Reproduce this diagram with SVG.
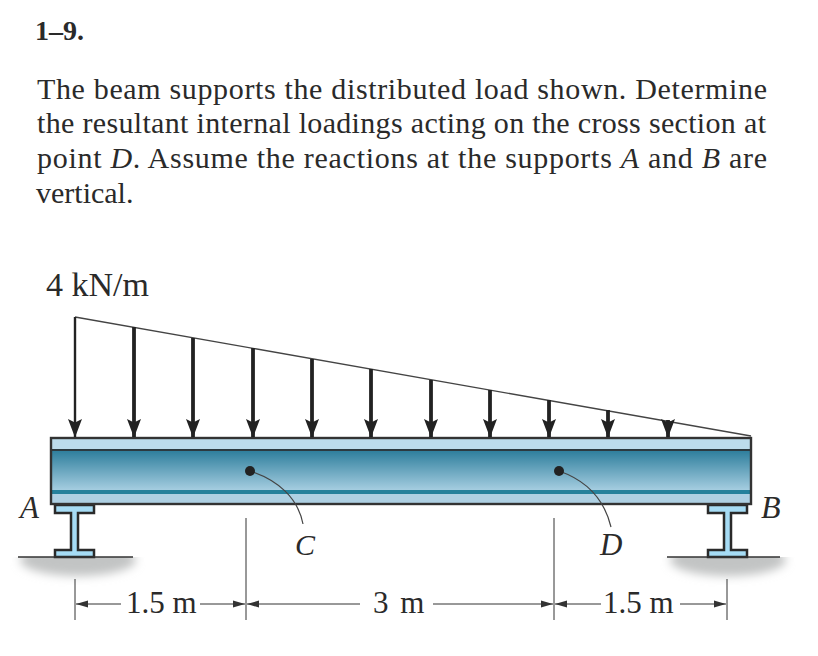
<svg xmlns="http://www.w3.org/2000/svg" width="818" height="656" viewBox="0 0 818 656">
<style>
text{font-family:"Liberation Serif","Times New Roman",serif;fill:#2a2a2a}
.p{font-size:30px}
.d{font-size:31px}
.l{font-style:italic}
.load{stroke:#222;stroke-width:3.8;fill:none}
.dim{stroke:#333;stroke-width:1;fill:none}
.sup{fill:#a6dcf5;stroke:#2a2a2a;stroke-width:2.5}
.ground{stroke:#333;stroke-width:1.6}
</style>
<defs>
<linearGradient id="web" x1="0" y1="0" x2="0" y2="1"><stop offset="0" stop-color="#2f7f9d"/><stop offset="1" stop-color="#a5cde0"/></linearGradient>
<filter id="blur" x="-20%" y="-60%" width="140%" height="220%"><feGaussianBlur stdDeviation="5"/></filter>
<clipPath id="below-a"><rect x="0" y="557" width="200" height="50"/></clipPath>
<clipPath id="below-b"><rect x="640" y="557" width="178" height="50"/></clipPath>
<marker id="load-head" markerUnits="userSpaceOnUse" markerWidth="19" markerHeight="15" refX="18" refY="7.5" orient="auto" viewBox="0 0 19 15"><path d="M0 0.5L3.5 7.5L0 14.5L18.5 7.5Z" fill="#222"/></marker>
<marker id="dim-head" markerUnits="userSpaceOnUse" markerWidth="13" markerHeight="8" refX="12" refY="4" orient="auto" viewBox="0 0 13 8"><path d="M0 0.5L12 4L0 7.5Z" fill="#333"/></marker>
</defs>

<g id="problem-text">
<text x="35" y="40" font-size="28" font-weight="bold">1–9.</text>
<text class="p" x="37" y="99" textLength="730" lengthAdjust="spacing">The beam supports the distributed load shown. Determine</text>
<text class="p" x="37" y="133" textLength="729" lengthAdjust="spacing">the resultant internal loadings acting on the cross section at</text>
<text class="p" x="37" y="168" textLength="730" lengthAdjust="spacing">point <tspan font-style="italic">D</tspan>. Assume the reactions at the supports <tspan font-style="italic">A</tspan> and <tspan font-style="italic">B</tspan> are</text>
<text class="p" x="36" y="203">vertical.</text>
</g>

<g id="support-a">
<g clip-path="url(#below-a)"><ellipse cx="78" cy="560" rx="58" ry="16" fill="#c2c4c4" filter="url(#blur)"/></g>
<path class="sup" d="M55 505H94V513H78V550H94V557H55V550H71V513H55Z"/>
<line class="ground" x1="18" y1="557" x2="133" y2="557"/>
</g>
<g id="support-b">
<g clip-path="url(#below-b)"><ellipse cx="728" cy="560" rx="58" ry="16" fill="#c2c4c4" filter="url(#blur)"/></g>
<path class="sup" d="M708 505H747V513H731V550H747V557H708V550H724V513H708Z"/>
<line class="ground" x1="667" y1="557" x2="780" y2="557"/>
</g>

<g id="beam">
<rect x="51" y="438" width="700" height="66" fill="#aed0e3"/>
<rect x="51" y="439" width="700" height="11" fill="#bcdcec"/>
<rect x="51" y="451" width="700" height="39" fill="url(#web)"/>
<rect x="51" y="490" width="700" height="4" fill="#25819c"/>
<line x1="51" y1="450" x2="751" y2="450" stroke="#2c3a40" stroke-width="2.2"/>
<rect x="51" y="438" width="700" height="66" fill="none" stroke="#333" stroke-width="2.4"/>
</g>

<g id="connectors">
<g id="load">
<path d="M75 317L751 436" stroke="#444" stroke-width="1.3" fill="none"/>
<line class="load" x1="75" y1="317" x2="75" y2="437" marker-end="url(#load-head)" style="stroke-width:2.4"/>
<line class="load" x1="134" y1="327" x2="134" y2="437" marker-end="url(#load-head)"/>
<line class="load" x1="193" y1="338" x2="193" y2="437" marker-end="url(#load-head)"/>
<line class="load" x1="253" y1="348" x2="253" y2="437" marker-end="url(#load-head)"/>
<line class="load" x1="312" y1="359" x2="312" y2="437" marker-end="url(#load-head)"/>
<line class="load" x1="371" y1="369" x2="371" y2="437" marker-end="url(#load-head)"/>
<line class="load" x1="431" y1="380" x2="431" y2="437" marker-end="url(#load-head)"/>
<line class="load" x1="490" y1="390" x2="490" y2="437" marker-end="url(#load-head)"/>
<line class="load" x1="549" y1="400" x2="549" y2="437" marker-end="url(#load-head)"/>
<line class="load" x1="608" y1="410" x2="608" y2="437" marker-end="url(#load-head)"/>
<line class="load" x1="668" y1="420" x2="668" y2="437" marker-end="url(#load-head)"/>
</g>
<g id="leaders">
<path d="M250 471C278 480 298 498 303 524" stroke="#444" stroke-width="1.2" fill="none"/>
<path d="M559 471C585 480 604 498 611 527" stroke="#444" stroke-width="1.2" fill="none"/>
</g>
<g id="dimensions">
<line class="dim" x1="75" y1="579" x2="75" y2="620"/>
<line class="dim" x1="246" y1="518" x2="246" y2="620"/>
<line class="dim" x1="554" y1="518" x2="554" y2="620"/>
<line class="dim" x1="727" y1="579" x2="727" y2="620"/>
<line class="dim" x1="121" y1="604" x2="76" y2="604" marker-end="url(#dim-head)"/>
<line class="dim" x1="200" y1="604" x2="245" y2="604" marker-end="url(#dim-head)"/>
<line class="dim" x1="360" y1="604" x2="247" y2="604" marker-end="url(#dim-head)"/>
<line class="dim" x1="433" y1="604" x2="553" y2="604" marker-end="url(#dim-head)"/>
<line class="dim" x1="601" y1="604" x2="555" y2="604" marker-end="url(#dim-head)"/>
<line class="dim" x1="680" y1="604" x2="726" y2="604" marker-end="url(#dim-head)"/>
</g>
</g>

<g id="point-c"><circle cx="250" cy="471" r="5" fill="#222"/><text class="l" x="295" y="555" font-size="30">C</text></g>
<g id="point-d"><circle cx="559" cy="471" r="5" fill="#222"/><text class="l" x="600" y="555" font-size="31">D</text></g>
<g id="label-a"><text class="l" x="20" y="518" font-size="31">A</text></g>
<g id="label-b"><text class="l" x="761" y="518" font-size="32">B</text></g>
<g id="labels">
<text x="46" y="296" font-size="34">4 kN/m</text>
<text class="d" x="126" y="613">1.5 m</text>
<text class="d" x="373" y="613" word-spacing="4">3 m</text>
<text class="d" x="603" y="613">1.5 m</text>
</g>
</svg>
